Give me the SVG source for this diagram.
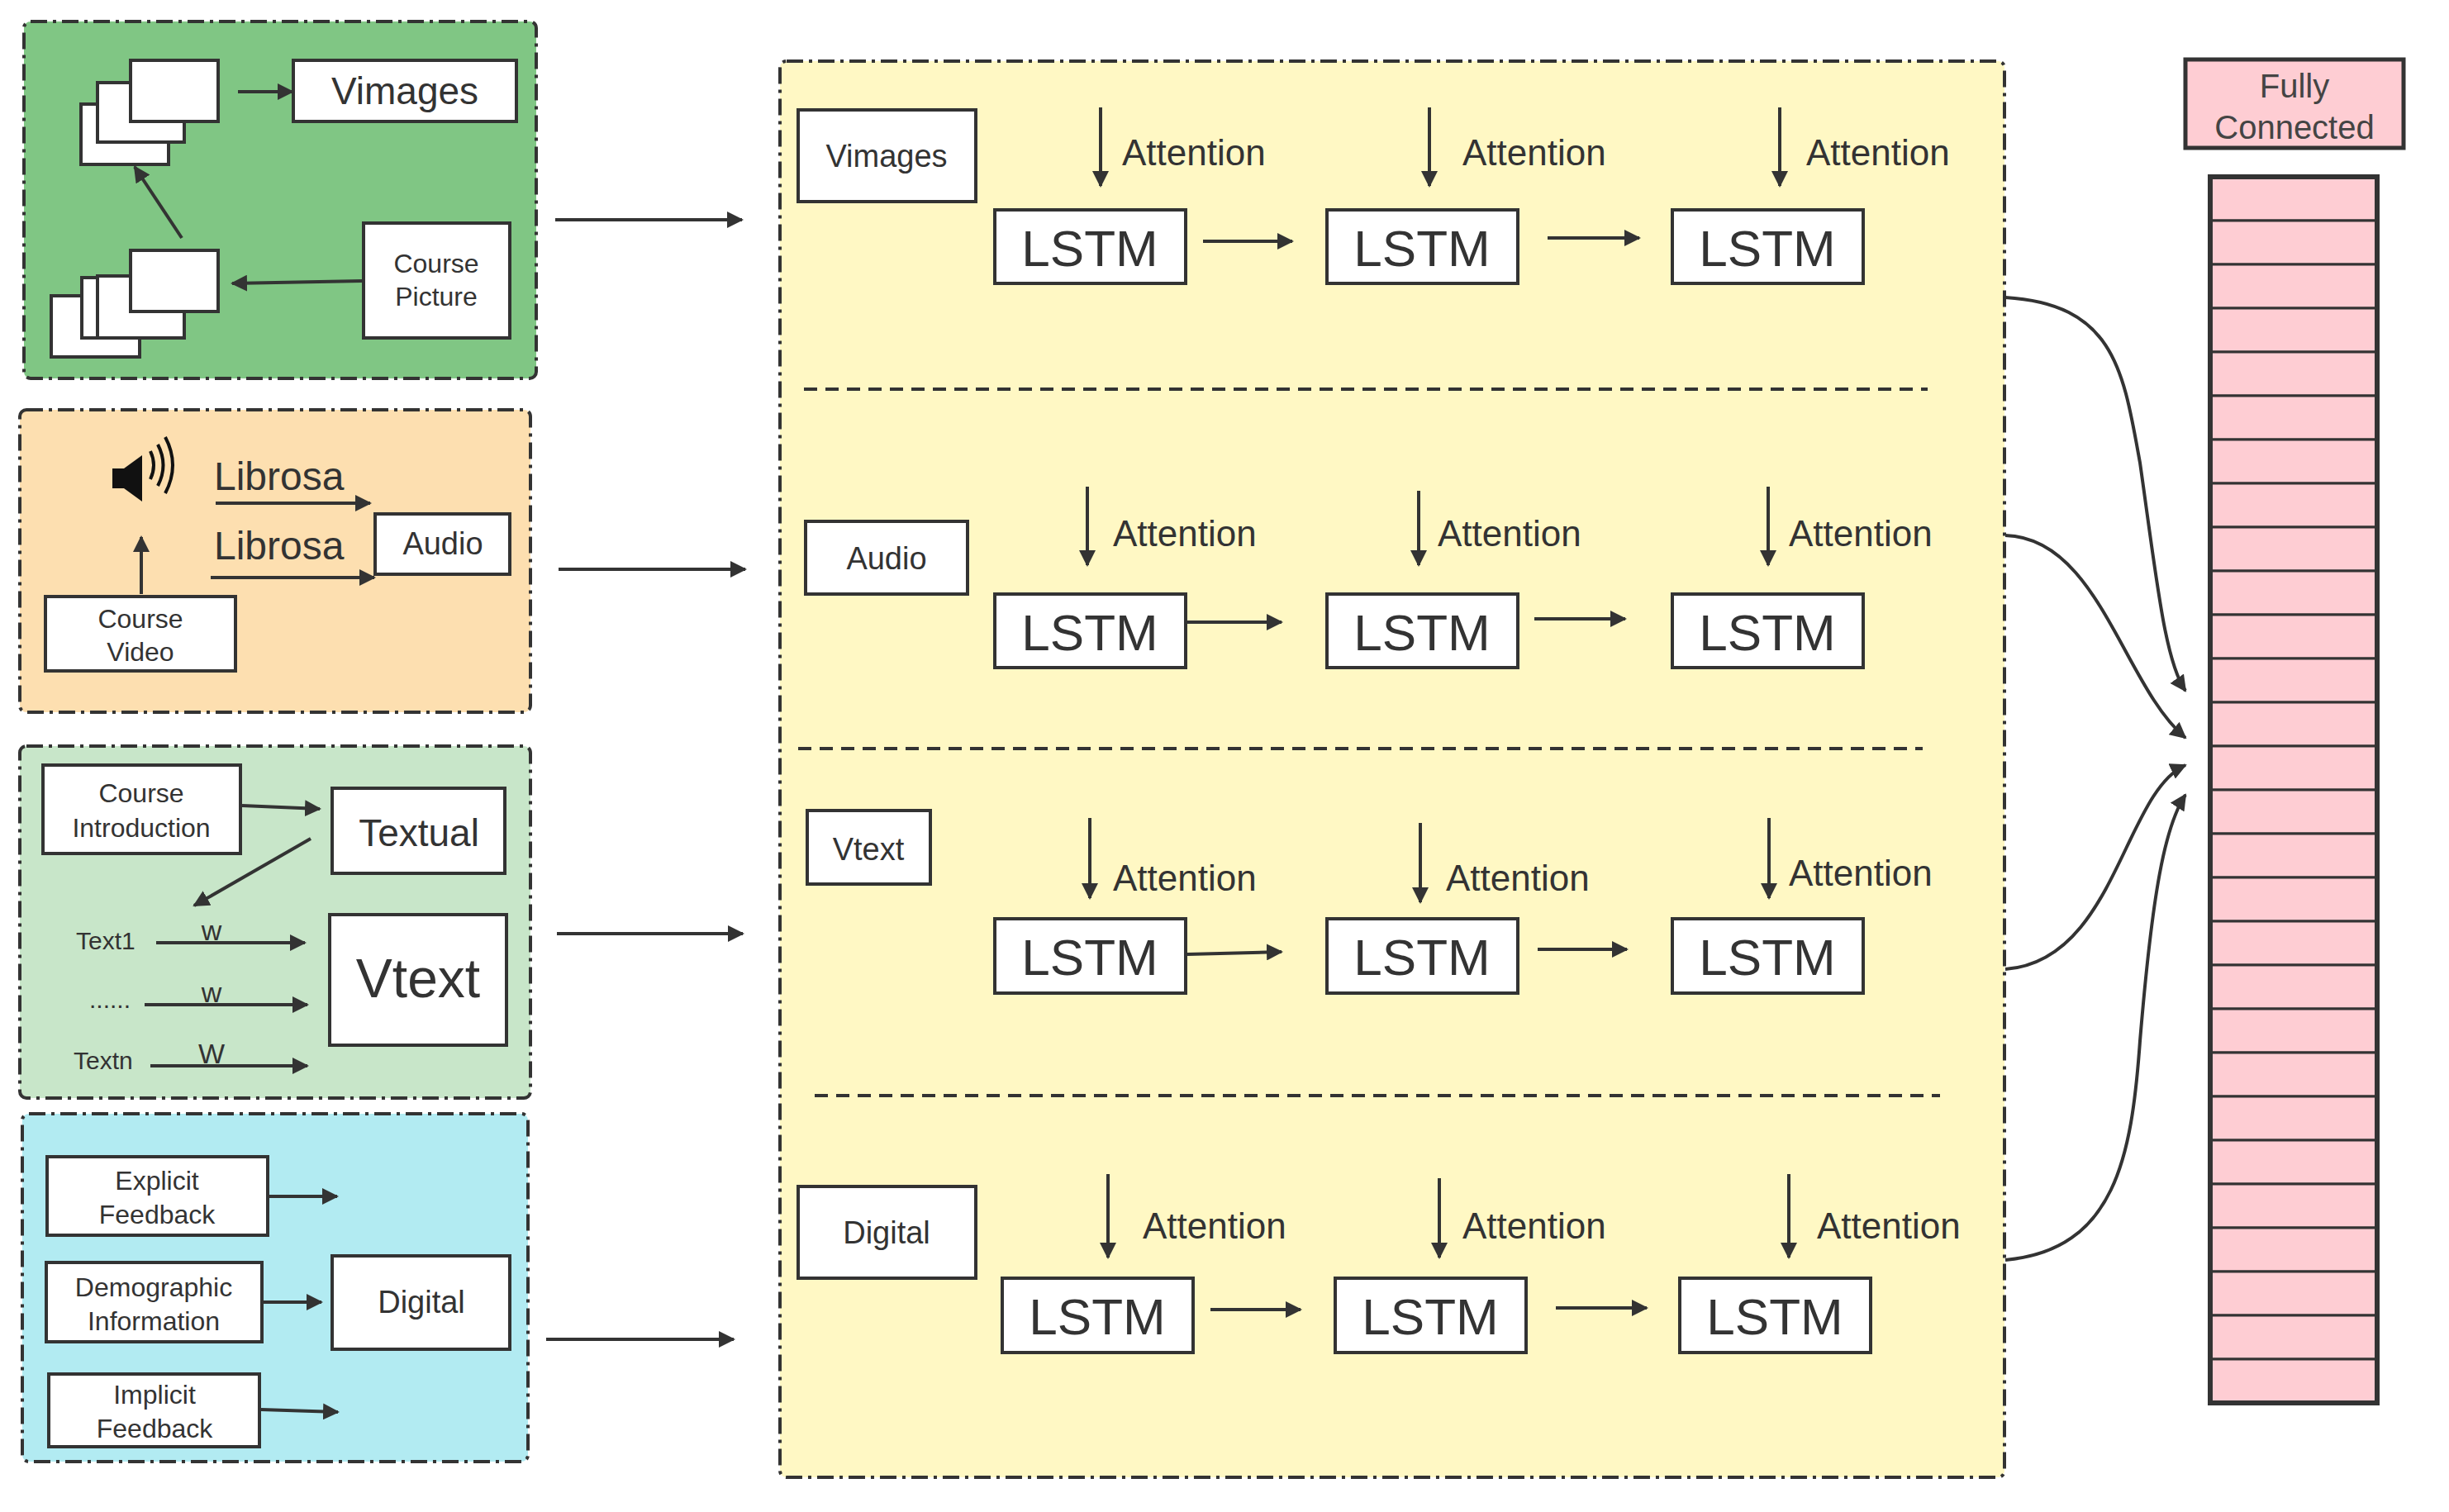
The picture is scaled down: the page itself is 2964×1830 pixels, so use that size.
<svg xmlns="http://www.w3.org/2000/svg" width="2964" height="1830" viewBox="0 0 2964 1830">
<defs>
<marker id="ah" viewBox="0 0 10 10" refX="9" refY="5" markerWidth="5" markerHeight="5" orient="auto" markerUnits="strokeWidth"><path d="M0,0 L10,5 L0,10 z" fill="#333"/></marker>
</defs>
<style>
text{font-family:"Liberation Sans",Arial,sans-serif;fill:#333}
.grp{stroke:#333;stroke-width:4;stroke-dasharray:20 7 4 7}
.box{fill:#fff;stroke:#333;stroke-width:4}
.ar{stroke:#333;stroke-width:4;fill:none;marker-end:url(#ah)}
.sep{stroke:#333;stroke-width:4;stroke-dasharray:16 10;fill:none}
.att{font-size:44px}
.lstm{font-size:62px;text-anchor:middle}
.sm{font-size:32px;text-anchor:middle}
.md{font-size:38px;text-anchor:middle}
.row{fill:#fecdd3;stroke:#333;stroke-width:3}
</style>
<rect width="2964" height="1830" fill="#fff"/>
<g id="g-images">
<rect class="grp" x="29" y="26" width="620" height="432" rx="8" fill="#80c684"/>
<rect class="box" x="98" y="126" width="106" height="73"/>
<rect class="box" x="118" y="100" width="105" height="72"/>
<rect class="box" x="158" y="73" width="106" height="74"/>
<rect class="box" x="62" y="358" width="107" height="74"/>
<rect class="box" x="99" y="336" width="50" height="73"/>
<rect class="box" x="118" y="334" width="105" height="75"/>
<rect class="box" x="158" y="303" width="106" height="74"/>
<rect class="box" x="355" y="73" width="270" height="74"/>
<text x="490" y="126" style="font-size:46px;text-anchor:middle">Vimages</text>
<rect class="box" x="440" y="270" width="177" height="139"/>
<text class="sm" x="528" y="330">Course</text>
<text class="sm" x="528" y="370">Picture</text>
</g>
<g id="g-audio">
<rect class="grp" x="24" y="496" width="618" height="366" rx="8" fill="#fddfb0"/>
<path d="M136,567 h14 l22,-16 v56 l-22,-16 h-14 z" fill="#111"/>
<path d="M182,583 q8,17 0,34 M191,575 q13,25 0,50 M200,566 q18,34 0,68" fill="none" stroke="#111" stroke-width="4" transform="translate(0,-37)"/>
<text x="259" y="593" style="font-size:48px">Librosa</text>
<text x="259" y="677" style="font-size:48px">Librosa</text>
<rect class="box" x="454" y="622" width="163" height="73"/>
<text class="md" x="536" y="671">Audio</text>
<rect class="box" x="55" y="722" width="230" height="90"/>
<text class="sm" x="170" y="760">Course</text>
<text class="sm" x="170" y="800">Video</text>
</g>
<g id="g-text">
<rect class="grp" x="24" y="903" width="618" height="426" rx="8" fill="#c8e6c9"/>
<rect class="box" x="52" y="926" width="239" height="107"/>
<text class="sm" x="171" y="971">Course</text>
<text class="sm" x="171" y="1013">Introduction</text>
<rect class="box" x="402" y="954" width="209" height="103"/>
<text x="507" y="1024" style="font-size:46px;text-anchor:middle">Textual</text>
<rect class="box" x="399" y="1107" width="214" height="158"/>
<text x="506" y="1207" style="font-size:66px;text-anchor:middle">Vtext</text>
<text x="92" y="1149" style="font-size:30px">Text1</text>
<text x="108" y="1220" style="font-size:30px">......</text>
<text x="89" y="1294" style="font-size:30px">Textn</text>
<text x="256" y="1138" style="font-size:34px;text-anchor:middle">w</text>
<text x="256" y="1213" style="font-size:34px;text-anchor:middle">w</text>
<text x="256" y="1287" style="font-size:34px;text-anchor:middle">W</text>
</g>
<g id="g-digital" transform="translate(0,-8)">
<rect class="grp" x="27" y="1356" width="612" height="421" rx="8" fill="#b2ebf2"/>
<rect class="box" x="57" y="1408" width="267" height="95"/>
<text class="sm" x="190" y="1448">Explicit</text>
<text class="sm" x="190" y="1489">Feedback</text>
<rect class="box" x="56" y="1536" width="261" height="96"/>
<text class="sm" x="186" y="1577">Demographic</text>
<text class="sm" x="186" y="1618">Information</text>
<rect class="box" x="59" y="1671" width="255" height="88"/>
<text class="sm" x="187" y="1707">Implicit</text>
<text class="sm" x="187" y="1748">Feedback</text>
<rect class="box" x="402" y="1528" width="215" height="113"/>
<text class="md" x="510" y="1597">Digital</text>
</g>
<g id="g-main">
<rect class="grp" x="944" y="74" width="1482" height="1714" rx="8" fill="#fff8c4"/>
<path class="sep" d="M973,471 H2333 M966,906 H2327 M986,1326 H2348"/>
</g>
<g id="n-row1" transform="translate(-9,0)">
<rect class="box" x="975" y="133" width="215" height="111"/>
<text class="md" x="1082" y="202">Vimages</text>
<rect class="box" x="1213" y="254" width="231" height="89"/><text class="lstm" x="1328" y="322">LSTM</text>
<rect class="box" x="1615" y="254" width="231" height="89"/><text class="lstm" x="1730" y="322">LSTM</text>
<rect class="box" x="2033" y="254" width="231" height="89"/><text class="lstm" x="2148" y="322">LSTM</text>
<text class="att" x="1367" y="200">Attention</text>
<text class="att" x="1779" y="200">Attention</text>
<text class="att" x="2195" y="200">Attention</text>
</g>
<g id="n-row2" transform="translate(-9,-6)">
<rect class="box" x="984" y="637" width="196" height="88"/>
<text class="md" x="1082" y="695">Audio</text>
<rect class="box" x="1213" y="725" width="231" height="89"/><text class="lstm" x="1328" y="793">LSTM</text>
<rect class="box" x="1615" y="725" width="231" height="89"/><text class="lstm" x="1730" y="793">LSTM</text>
<rect class="box" x="2033" y="725" width="231" height="89"/><text class="lstm" x="2148" y="793">LSTM</text>
<text class="att" x="1356" y="667">Attention</text>
<text class="att" x="1749" y="667">Attention</text>
<text class="att" x="2174" y="667">Attention</text>
</g>
<g id="n-row3" transform="translate(-9,-9)">
<rect class="box" x="986" y="990" width="149" height="89"/>
<text class="md" x="1060" y="1050">Vtext</text>
<rect class="box" x="1213" y="1121" width="231" height="90"/><text class="lstm" x="1328" y="1189">LSTM</text>
<rect class="box" x="1615" y="1121" width="231" height="90"/><text class="lstm" x="1730" y="1189">LSTM</text>
<rect class="box" x="2033" y="1121" width="231" height="90"/><text class="lstm" x="2148" y="1189">LSTM</text>
<text class="att" x="1356" y="1087">Attention</text>
<text class="att" x="1759" y="1087">Attention</text>
<text class="att" x="2174" y="1081">Attention</text>
</g>
<g id="n-row4" transform="translate(-9,-13)">
<rect class="box" x="975" y="1449" width="215" height="111"/>
<text class="md" x="1082" y="1518">Digital</text>
<rect class="box" x="1222" y="1560" width="231" height="90"/><text class="lstm" x="1337" y="1628">LSTM</text>
<rect class="box" x="1625" y="1560" width="231" height="90"/><text class="lstm" x="1740" y="1628">LSTM</text>
<rect class="box" x="2042" y="1560" width="231" height="90"/><text class="lstm" x="2157" y="1628">LSTM</text>
<text class="att" x="1392" y="1512">Attention</text>
<text class="att" x="1779" y="1512">Attention</text>
<text class="att" x="2208" y="1512">Attention</text>
</g>
<g id="n-fc">
<rect x="2645" y="72" width="264" height="107" fill="#fecdd3" stroke="#333" stroke-width="5"/>
<text x="2777" y="118" style="font-size:40px;text-anchor:middle;fill:#444">Fully</text>
<text x="2777" y="168" style="font-size:40px;text-anchor:middle;fill:#444">Connected</text>
<g id="fc-rows">
<rect class="row" x="2675" y="214" width="202" height="53"/><rect class="row" x="2675" y="267" width="202" height="53"/><rect class="row" x="2675" y="320" width="202" height="53"/><rect class="row" x="2675" y="373" width="202" height="53"/><rect class="row" x="2675" y="426" width="202" height="53"/><rect class="row" x="2675" y="479" width="202" height="53"/><rect class="row" x="2675" y="532" width="202" height="53"/>
<rect class="row" x="2675" y="585" width="202" height="53"/><rect class="row" x="2675" y="638" width="202" height="53"/><rect class="row" x="2675" y="691" width="202" height="53"/><rect class="row" x="2675" y="744" width="202" height="53"/><rect class="row" x="2675" y="797" width="202" height="53"/><rect class="row" x="2675" y="850" width="202" height="53"/><rect class="row" x="2675" y="903" width="202" height="53"/>
<rect class="row" x="2675" y="956" width="202" height="53"/><rect class="row" x="2675" y="1009" width="202" height="53"/><rect class="row" x="2675" y="1062" width="202" height="53"/><rect class="row" x="2675" y="1115" width="202" height="53"/><rect class="row" x="2675" y="1168" width="202" height="53"/><rect class="row" x="2675" y="1221" width="202" height="53"/><rect class="row" x="2675" y="1274" width="202" height="53"/>
<rect class="row" x="2675" y="1327" width="202" height="53"/><rect class="row" x="2675" y="1380" width="202" height="53"/><rect class="row" x="2675" y="1433" width="202" height="53"/><rect class="row" x="2675" y="1486" width="202" height="53"/><rect class="row" x="2675" y="1539" width="202" height="53"/><rect class="row" x="2675" y="1592" width="202" height="53"/><rect class="row" x="2675" y="1645" width="202" height="53"/>
</g>
<rect x="2675" y="214" width="202" height="1484" fill="none" stroke="#333" stroke-width="6"/>
</g>
<g id="connectors">
<path class="ar" d="M288,111 H354"/>
<path class="ar" d="M220,288 L163,202"/>
<path class="ar" d="M439,340 L281,343"/>
<path class="ar" d="M672,266 H898"/>
<path class="ar" d="M261,609 H448"/>
<path class="ar" d="M255,699 H453"/>
<path class="ar" d="M171,719 V650"/>
<path class="ar" d="M676,689 H902"/>
<path class="ar" d="M293,975 L387,979"/>
<path class="ar" d="M376,1015 L235,1096"/>
<path class="ar" d="M189,1141 H369"/>
<path class="ar" d="M175,1216 H372"/>
<path class="ar" d="M182,1290 H372"/>
<path class="ar" d="M674,1130 H899"/>
<g transform="translate(0,-8)">
<path class="ar" d="M325,1456 H408"/>
<path class="ar" d="M319,1584 H389"/>
<path class="ar" d="M316,1714 L409,1717"/>
<path class="ar" d="M661,1629 H888"/>
</g>
<g transform="translate(-9,0)">
<path class="ar" d="M1341,130 V225"/><path class="ar" d="M1739,130 V225"/><path class="ar" d="M2163,130 V225"/>
<path class="ar" d="M1465,292 H1573"/><path class="ar" d="M1882,288 H1993"/>
</g>
<g transform="translate(-9,-6)">
<path class="ar" d="M1325,595 V690"/><path class="ar" d="M1726,600 V690"/><path class="ar" d="M2149,595 V690"/>
<path class="ar" d="M1446,759 H1560"/><path class="ar" d="M1866,755 H1976"/>
</g>
<g transform="translate(-9,-9)">
<path class="ar" d="M1328,999 V1096"/><path class="ar" d="M1728,1005 V1101"/><path class="ar" d="M2150,999 V1096"/>
<path class="ar" d="M1446,1164 L1560,1161"/><path class="ar" d="M1870,1158 H1978"/>
</g>
<g transform="translate(-9,-13)">
<path class="ar" d="M1350,1434 V1535"/><path class="ar" d="M1751,1439 V1535"/><path class="ar" d="M2174,1434 V1535"/>
<path class="ar" d="M1474,1598 H1583"/><path class="ar" d="M1892,1596 H2002"/>
</g>
<path class="ar" d="M2427,360 C2560,368 2570,450 2590,560 C2610,700 2620,800 2645,836"/>
<path class="ar" d="M2427,648 C2540,651 2570,830 2645,893"/>
<path class="ar" d="M2427,1173 C2560,1163 2570,960 2645,926"/>
<path class="ar" d="M2427,1525 C2560,1513 2580,1400 2590,1260 C2605,1080 2620,1000 2645,962"/>
</g>
</svg>
